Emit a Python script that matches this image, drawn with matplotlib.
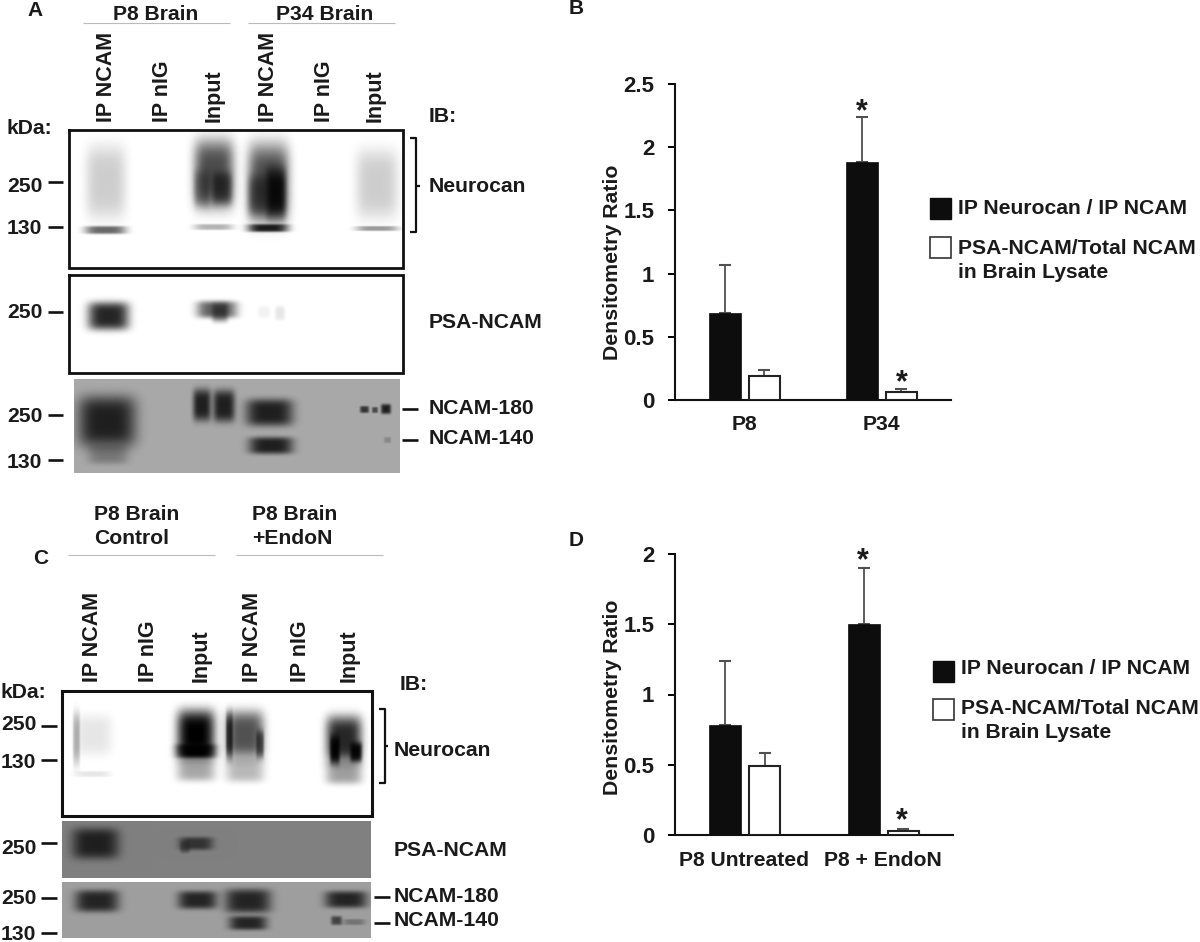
import numpy as np
import matplotlib
matplotlib.use("Agg")
import matplotlib.pyplot as plt

plt.rcParams['font.family'] = ['Liberation Sans', 'DejaVu Sans']
plt.rcParams['font.weight'] = 'bold'

W, H = 1200, 942
TXT = '#1a1a1a'

# --- bar charts
groups_b = ['P8', 'P34']
neurocan_b = [0.69, 1.88]
neurocan_b_err = [0.38, 0.36]
psa_b = [0.19, 0.06]
psa_b_err = [0.045, 0.025]

groups_d = ['P8 Untreated', 'P8 + EndoN']
neurocan_d = [0.78, 1.505]
neurocan_d_err = [0.46, 0.395]
psa_d = [0.49, 0.03]
psa_d_err = [0.095, 0.01]

legend_a = 'IP Neurocan / IP NCAM'
legend_b = 'PSA-NCAM/Total NCAM\nin Brain Lysate'

# --- blots: one row per band, (lane left, lane right, top, bottom, density)
neurocan_a = [
    (86, 126, 146, 218, .2), (85, 126, 226, 234, .6),
    (194, 234, 140, 208, .72), (194, 210, 170, 206, .35), (212, 232, 172, 204, .6), (194, 233, 224, 230, .3),
    (248, 289, 144, 222, .72), (248, 270, 175, 215, .5), (266, 286, 168, 218, .95), (248, 288, 224, 232, .9),
    (356, 398, 150, 218, .2), (356, 398, 226, 231, .4),
]
psa_a = [
    (88, 129, 302, 330, .88), (197, 237, 301, 318, .65), (212, 228, 303, 322, .5),
    (258, 270, 306, 318, .06), (275, 285, 306, 320, .1),
]
ncam_a = [
    (78, 136, 396, 447, 1.0), (88, 128, 444, 464, .35),
    (193, 211, 389, 421, 1.0), (213, 235, 390, 422, 1.0),
    (246, 293, 399, 426, 1.0), (249, 293, 437, 454, 1.0),
    (360, 369, 406, 413, .85), (372, 378, 407, 413, .7), (381, 391, 404, 414, 1.0),
    (384, 391, 437, 443, .25),
]
neurocan_c = [
    (73, 80, 712, 765, .28), (75, 112, 715, 755, .1), (75, 110, 771, 777, .1),
    (177, 215, 710, 758, 1.0), (177, 215, 744, 758, 1.0), (177, 215, 756, 781, .35),
    (226, 264, 711, 758, .68), (226, 233, 713, 758, .75), (256, 264, 730, 758, .6), (226, 264, 757, 782, .28),
    (326, 362, 716, 762, .85), (330, 340, 735, 764, .95), (350, 362, 742, 762, .95),
    (326, 362, 760, 784, .38),
]
psa_c = [
    (72, 119, 828, 859, 1.0), (179, 213, 837, 850, .8), (180, 190, 841, 853, .5),
]
ncam_c = [
    (75, 119, 890, 912, 1.0), (178, 217, 891, 909, 1.0),
    (225, 271, 889, 913, 1.0), (229, 267, 916, 930, 1.0),
    (325, 367, 891, 908, 1.0), (331, 342, 916, 925, .75), (343, 365, 919, 925, .35),
]


def px(x0, y0, x1, y1):
    # pixel box (y down) to figure fractions
    return [x0 / W, 1 - y1 / H, (x1 - x0) / W, (y1 - y0) / H]


fig = plt.figure(figsize=(W / 100, H / 100), dpi=100)
page = fig.add_axes([0, 0, 1, 1])
page.set_xlim(0, W)
page.set_ylim(H, 0)
page.axis('off')


def blot(x0, y0, x1, y1, bands, bg, dark=0.08, edge=None, sharp=4):
    xx, yy = np.meshgrid(np.arange(x0, x1) + .5, np.arange(y0, y1) + .5)
    keep = np.ones_like(xx)
    for l, r, t, b, d in bands:
        cx, cy = (l + r) / 2, (t + b) / 2
        hx, hy = (r - l) / 2, (b - t) / 2
        keep *= 1 - d * np.exp(-np.abs((xx - cx) / hx) ** sharp) * np.exp(-np.abs((yy - cy) / hy) ** sharp)
    img = dark + (bg - dark) * keep
    page.imshow(img, cmap='gray', vmin=0, vmax=1, extent=(x0, x1, y1, y0),
                aspect='auto', interpolation='bilinear', zorder=1)
    if edge:
        page.plot([x0, x1, x1, x0, x0], [y0, y0, y1, y1, y0], color='#111111', lw=edge,
                  solid_joinstyle='miter', zorder=3)


blot(69, 130, 403, 268, neurocan_a, 1.0, dark=0.02, edge=2)
blot(69, 275, 403, 373, psa_a, 1.0, dark=0.03, edge=2)
blot(74, 379, 400, 473, ncam_a, .66, dark=.12, sharp=4)
blot(62, 691, 372, 816, neurocan_c, 1.0, dark=0.0, edge=2.2, sharp=4)
blot(62, 821, 371, 878, psa_c, .5, dark=.12, sharp=4)
blot(62, 882, 371, 938, ncam_c, .62, dark=.14, sharp=4)
page.set_xlim(0, W)
page.set_ylim(H, 0)


def label(x, y, s, size=15.2, **kw):
    kw.setdefault('va', 'center')
    kw.setdefault('ha', 'left')
    page.text(x, y, s, fontsize=size, color=TXT, fontweight='bold', zorder=5, **kw)


def seg(xs, ys, lw=1.9, color='#111111'):
    page.plot(xs, ys, color=color, lw=lw, solid_capstyle='butt', zorder=4)


def kda_marks(ticks, xt0, xt1, xtext):
    for ty, tx in ticks:
        val, tyt = tx
        seg([xt0, xt1], [ty, ty])
        label(xtext, tyt, val)


def bracket(x, tip, y0, y1, ym, out):
    seg([tip, x, x, tip], [y0, y0, y1, y1], lw=1.6)
    seg([x, out], [ym, ym], lw=1.6)


# panel A
label(27, 10, 'A', size=15)
label(156, 14, 'P8 Brain', ha='center')
label(325, 14, 'P34 Brain', ha='center')
seg([83, 230], [22.5, 22.5], lw=.8, color='#bbbbbb')
seg([248, 395], [22.5, 22.5], lw=.8, color='#bbbbbb')
for x, s in zip([107, 162, 214, 269, 324, 375],
                ['IP NCAM', 'IP nIG', 'Input', 'IP NCAM', 'IP nIG', 'Input']):
    label(x, 122, s, rotation=90, ha='center', va='bottom', size=15.5)
label(7, 128, 'kDa:')
label(429, 117, 'IB:')
kda_marks([(182, ('250', 186)), (227, ('130', 229)), (312, ('250', 312)),
           (415, ('250', 417)), (460, ('130', 463))], 48, 63, 7)
bracket(416, 410, 138, 232, 186, 420)
label(429, 187, 'Neurocan')
label(429, 323, 'PSA-NCAM')
label(429, 409, 'NCAM-180')
label(429, 438, 'NCAM-140')
seg([402, 418], [409, 409])
seg([402, 418], [440, 440])

# panel C
label(33, 559, 'C', size=15)
label(94, 514, 'P8 Brain')
label(94, 539, 'Control')
label(252, 514, 'P8 Brain')
label(252, 539, '+EndoN')
seg([68, 215], [554.5, 554.5], lw=.8, color='#bbbbbb')
seg([236, 383], [554.5, 554.5], lw=.8, color='#bbbbbb')
for x, s in zip([92, 148, 201, 252, 301, 349],
                ['IP NCAM', 'IP nIG', 'Input', 'IP NCAM', 'IP nIG', 'Input']):
    label(x, 682, s, rotation=90, ha='center', va='bottom', size=15.5)
label(1, 692, 'kDa:')
label(400, 684, 'IB:')
kda_marks([(726, ('250', 725)), (760, ('130', 762)), (843, ('250', 848)),
           (898, ('250', 898)), (933, ('130', 934))], 41, 57, 1)
bracket(385, 379, 709, 783, 746, 388)
label(394, 750, 'Neurocan')
label(394, 850, 'PSA-NCAM')
label(394, 897, 'NCAM-180')
label(394, 921, 'NCAM-140')
seg([374, 390], [897, 897])
seg([374, 390], [923, 923])


def bars(y_top, y_bot, ymax, yticks, cats, black, black_err, white, white_err,
         xpos, x_end, labels_y, stars, ylabel_y):
    ax = fig.add_axes(px(675, y_top, x_end, y_bot))
    ax.patch.set_alpha(0)
    ax.set_xlim(675, x_end)
    ax.set_ylim(0, ymax)
    black_x = [p[0] for p in xpos]
    white_x = [p[1] for p in xpos]
    ax.bar(black_x, black, width=32, color='#0d0d0d', edgecolor='#0d0d0d', lw=.5, zorder=3)
    ax.bar(white_x, white, width=31, color='white', edgecolor='#222222', lw=1.5, zorder=3)
    ax.errorbar(black_x, black, yerr=[[0] * 2, black_err], fmt='none', ecolor='#505050',
                elinewidth=1.3, capsize=4, capthick=1.5, zorder=2)
    ax.errorbar(white_x, white, yerr=[[0] * 2, white_err], fmt='none', ecolor='#505050',
                elinewidth=1.3, capsize=4, capthick=1.5, zorder=2)
    for side in ('top', 'right'):
        ax.spines[side].set_visible(False)
    for side in ('left', 'bottom'):
        ax.spines[side].set_linewidth(1.5)
        ax.spines[side].set_color('#111111')
    ax.set_yticks(yticks)
    ax.set_yticklabels(['%g' % t for t in yticks], fontsize=16, fontweight='bold', color=TXT)
    ax.tick_params(axis='y', length=5, width=1.4, pad=10, direction='out')
    ax.set_xticks([])
    for cx, name in cats:
        page.text(cx, labels_y, name, ha='center', va='center', fontsize=15.2, fontweight='bold', color=TXT, zorder=5)
    page.text(612, ylabel_y, 'Densitometry Ratio', rotation=90, ha='center', va='center',
              fontsize=15.3, fontweight='bold', color=TXT, zorder=5)
    for sx, sy in stars:
        page.text(sx, sy, '*', ha='center', va='center', fontsize=22, fontweight='bold', color=TXT, zorder=5)


bars(84, 400, 2.5, [0, .5, 1, 1.5, 2, 2.5], [(744, groups_b[0]), (881, groups_b[1])],
     neurocan_b, neurocan_b_err, psa_b, psa_b_err,
     [(724.5, 764), (862, 901)], 951, 425, [(862, 112), (902, 383)], 262)
bars(554, 835, 2, [0, .5, 1, 1.5, 2], [(744, groups_d[0]), (883, groups_d[1])],
     neurocan_d, neurocan_d_err, psa_d, psa_d_err,
     [(724.5, 764.5), (863.5, 903)], 953, 861, [(863, 561), (902, 821)], 697)


def legend(x, box_a, box_b, y_a, y_b2, y_b3, size):
    page.add_patch(plt.Rectangle((x, box_a), 21, 21, fc='#0d0d0d', ec='#0d0d0d', zorder=4))
    page.add_patch(plt.Rectangle((x, box_b), 21, 21, fc='white', ec='#333333', lw=1.2, zorder=4))
    tx = x + 28
    page.text(tx, y_a, legend_a, fontsize=size, va='center', color=TXT, fontweight='bold', zorder=5)
    line1, line2 = legend_b.split('\n')
    page.text(tx, y_b2, line1, fontsize=size, va='center', color=TXT, fontweight='bold', zorder=5)
    page.text(tx, y_b3, line2, fontsize=size, va='center', color=TXT, fontweight='bold', zorder=5)


legend(930, 198, 237, 209, 248, 273, 15.2)
legend(933, 661, 699, 669, 708, 733, 15.2)
label(569, 9, 'B', size=15)
label(569, 541, 'D', size=15)

fig.savefig('out.png', dpi=100)
